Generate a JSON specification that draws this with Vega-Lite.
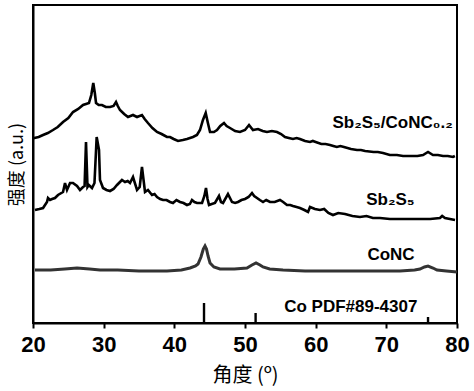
{
  "$schema": "https://vega.github.io/schema/vega-lite/v6.json",
  "autosize": {"type": "none"},
  "width": 424,
  "height": 318,
  "padding": {"left": 33, "top": 5, "right": 17, "bottom": 68},
  "background": "white",
  "config": {
    "view": {"stroke": "black", "strokeWidth": 2},
    "font": "Liberation Sans"
  },
  "datasets": {
    "xrd": [
      {"s": "A", "x": 20.04, "y": 184.7}, {"s": "A", "x": 20.8, "y": 186}, {"s": "A", "x": 21.42, "y": 188}, {"s": "A", "x": 22.1, "y": 190}, {"s": "A", "x": 22.83, "y": 193}, {"s": "A", "x": 23.5, "y": 196}, {"s": "A", "x": 24.25, "y": 201}, {"s": "A", "x": 25.0, "y": 205}, {"s": "A", "x": 25.66, "y": 211}, {"s": "A", "x": 26.4, "y": 214}, {"s": "A", "x": 27.08, "y": 218}, {"s": "A", "x": 27.5, "y": 219}, {"s": "A", "x": 27.92, "y": 220}, {"s": "A", "x": 28.25, "y": 228}, {"s": "A", "x": 28.53, "y": 240}, {"s": "A", "x": 28.75, "y": 230}, {"s": "A", "x": 28.92, "y": 220}, {"s": "A", "x": 29.3, "y": 218}, {"s": "A", "x": 29.76, "y": 218}, {"s": "A", "x": 30.3, "y": 216}, {"s": "A", "x": 30.9, "y": 216}, {"s": "A", "x": 31.4, "y": 217}, {"s": "A", "x": 31.75, "y": 221}, {"s": "A", "x": 32.0, "y": 217}, {"s": "A", "x": 32.31, "y": 213}, {"s": "A", "x": 32.9, "y": 209}, {"s": "A", "x": 33.44, "y": 206}, {"s": "A", "x": 34.15, "y": 208}, {"s": "A", "x": 34.72, "y": 206}, {"s": "A", "x": 35.42, "y": 208}, {"s": "A", "x": 35.8, "y": 204}, {"s": "A", "x": 36.27, "y": 200}, {"s": "A", "x": 36.9, "y": 195}, {"s": "A", "x": 37.55, "y": 191}, {"s": "A", "x": 38.2, "y": 189}, {"s": "A", "x": 38.96, "y": 186}, {"s": "A", "x": 39.39, "y": 186}, {"s": "A", "x": 39.9, "y": 184}, {"s": "A", "x": 40.52, "y": 182}, {"s": "A", "x": 41.2, "y": 183}, {"s": "A", "x": 41.79, "y": 184}, {"s": "A", "x": 42.64, "y": 186}, {"s": "A", "x": 43.2, "y": 188}, {"s": "A", "x": 43.63, "y": 193}, {"s": "A", "x": 44.05, "y": 203}, {"s": "A", "x": 44.44, "y": 210}, {"s": "A", "x": 44.75, "y": 200}, {"s": "A", "x": 45.05, "y": 191}, {"s": "A", "x": 45.6, "y": 191}, {"s": "A", "x": 46.04, "y": 193}, {"s": "A", "x": 46.5, "y": 197}, {"s": "A", "x": 47.03, "y": 200}, {"s": "A", "x": 47.4, "y": 197}, {"s": "A", "x": 47.88, "y": 195}, {"s": "A", "x": 48.6, "y": 192}, {"s": "A", "x": 49.29, "y": 191}, {"s": "A", "x": 50.0, "y": 193}, {"s": "A", "x": 50.57, "y": 198}, {"s": "A", "x": 51.13, "y": 193}, {"s": "A", "x": 51.84, "y": 194}, {"s": "A", "x": 52.5, "y": 192}, {"s": "A", "x": 53.11, "y": 191}, {"s": "A", "x": 53.8, "y": 192}, {"s": "A", "x": 54.53, "y": 191}, {"s": "A", "x": 55.1, "y": 189}, {"s": "A", "x": 55.66, "y": 186}, {"s": "A", "x": 56.2, "y": 185}, {"s": "A", "x": 56.79, "y": 184}, {"s": "A", "x": 57.3, "y": 185}, {"s": "A", "x": 57.78, "y": 184}, {"s": "A", "x": 58.5, "y": 182}, {"s": "A", "x": 59.2, "y": 181}, {"s": "A", "x": 59.6, "y": 182}, {"s": "A", "x": 60.0, "y": 181}, {"s": "A", "x": 60.8, "y": 179}, {"s": "A", "x": 61.4, "y": 179}, {"s": "A", "x": 62.03, "y": 178}, {"s": "A", "x": 62.5, "y": 177}, {"s": "A", "x": 63.0, "y": 176}, {"s": "A", "x": 63.5, "y": 177}, {"s": "A", "x": 64.0, "y": 176}, {"s": "A", "x": 65.0, "y": 174}, {"s": "A", "x": 65.85, "y": 173}, {"s": "A", "x": 66.4, "y": 173}, {"s": "A", "x": 67.0, "y": 172}, {"s": "A", "x": 68.2, "y": 171}, {"s": "A", "x": 68.8, "y": 171}, {"s": "A", "x": 69.53, "y": 170}, {"s": "A", "x": 70.5, "y": 168}, {"s": "A", "x": 71.5, "y": 168}, {"s": "A", "x": 72.36, "y": 167}, {"s": "A", "x": 73.5, "y": 167}, {"s": "A", "x": 74.4, "y": 167}, {"s": "A", "x": 75.19, "y": 168}, {"s": "A", "x": 75.9, "y": 171}, {"s": "A", "x": 76.6, "y": 168}, {"s": "A", "x": 77.3, "y": 168}, {"s": "A", "x": 78.02, "y": 167}, {"s": "A", "x": 78.7, "y": 167}, {"s": "A", "x": 79.43, "y": 166}, {"s": "A", "x": 79.7, "y": 167},

      {"s": "B", "x": 20.28, "y": 113}, {"s": "B", "x": 20.9, "y": 114}, {"s": "B", "x": 21.42, "y": 115}, {"s": "B", "x": 21.98, "y": 121}, {"s": "B", "x": 22.12, "y": 125}, {"s": "B", "x": 22.41, "y": 123}, {"s": "B", "x": 22.7, "y": 124}, {"s": "B", "x": 23.11, "y": 125}, {"s": "B", "x": 23.54, "y": 128}, {"s": "B", "x": 24.25, "y": 131}, {"s": "B", "x": 24.53, "y": 140}, {"s": "B", "x": 24.81, "y": 133}, {"s": "B", "x": 25.24, "y": 140}, {"s": "B", "x": 25.66, "y": 140}, {"s": "B", "x": 26.23, "y": 137}, {"s": "B", "x": 26.65, "y": 133}, {"s": "B", "x": 27.08, "y": 136}, {"s": "B", "x": 27.3, "y": 137}, {"s": "B", "x": 27.5, "y": 181}, {"s": "B", "x": 27.71, "y": 136}, {"s": "B", "x": 27.9, "y": 138}, {"s": "B", "x": 28.35, "y": 135}, {"s": "B", "x": 28.7, "y": 140}, {"s": "B", "x": 29.01, "y": 186}, {"s": "B", "x": 29.34, "y": 173}, {"s": "B", "x": 29.48, "y": 143}, {"s": "B", "x": 29.91, "y": 135}, {"s": "B", "x": 30.4, "y": 133}, {"s": "B", "x": 30.9, "y": 132}, {"s": "B", "x": 31.4, "y": 134}, {"s": "B", "x": 31.89, "y": 138}, {"s": "B", "x": 32.59, "y": 143}, {"s": "B", "x": 33.02, "y": 141}, {"s": "B", "x": 33.4, "y": 142}, {"s": "B", "x": 33.73, "y": 140}, {"s": "B", "x": 34.15, "y": 146}, {"s": "B", "x": 34.72, "y": 133}, {"s": "B", "x": 35.1, "y": 136}, {"s": "B", "x": 35.42, "y": 156}, {"s": "B", "x": 35.85, "y": 131}, {"s": "B", "x": 36.27, "y": 133}, {"s": "B", "x": 36.84, "y": 128}, {"s": "B", "x": 37.2, "y": 129}, {"s": "B", "x": 37.55, "y": 126}, {"s": "B", "x": 38.0, "y": 124}, {"s": "B", "x": 38.4, "y": 123}, {"s": "B", "x": 38.9, "y": 123}, {"s": "B", "x": 39.39, "y": 121}, {"s": "B", "x": 39.81, "y": 120}, {"s": "B", "x": 40.3, "y": 123}, {"s": "B", "x": 40.8, "y": 121}, {"s": "B", "x": 41.3, "y": 120}, {"s": "B", "x": 41.79, "y": 118}, {"s": "B", "x": 42.2, "y": 119}, {"s": "B", "x": 42.5, "y": 123}, {"s": "B", "x": 42.85, "y": 121}, {"s": "B", "x": 43.21, "y": 120}, {"s": "B", "x": 43.92, "y": 120}, {"s": "B", "x": 44.25, "y": 127}, {"s": "B", "x": 44.48, "y": 135}, {"s": "B", "x": 44.7, "y": 124}, {"s": "B", "x": 44.91, "y": 118}, {"s": "B", "x": 45.3, "y": 119}, {"s": "B", "x": 45.75, "y": 120}, {"s": "B", "x": 46.32, "y": 127}, {"s": "B", "x": 46.6, "y": 121}, {"s": "B", "x": 46.89, "y": 120}, {"s": "B", "x": 47.59, "y": 129}, {"s": "B", "x": 48.16, "y": 121}, {"s": "B", "x": 48.6, "y": 120}, {"s": "B", "x": 49.01, "y": 121}, {"s": "B", "x": 49.5, "y": 123}, {"s": "B", "x": 50.0, "y": 124}, {"s": "B", "x": 50.5, "y": 126}, {"s": "B", "x": 50.99, "y": 130}, {"s": "B", "x": 51.3, "y": 127}, {"s": "B", "x": 51.7, "y": 125}, {"s": "B", "x": 52.1, "y": 123}, {"s": "B", "x": 52.55, "y": 121}, {"s": "B", "x": 53.0, "y": 123}, {"s": "B", "x": 53.54, "y": 121}, {"s": "B", "x": 54.2, "y": 121}, {"s": "B", "x": 54.95, "y": 123}, {"s": "B", "x": 55.4, "y": 121}, {"s": "B", "x": 55.94, "y": 118}, {"s": "B", "x": 56.4, "y": 118}, {"s": "B", "x": 56.79, "y": 117}, {"s": "B", "x": 57.3, "y": 116}, {"s": "B", "x": 57.78, "y": 115}, {"s": "B", "x": 58.4, "y": 113}, {"s": "B", "x": 58.92, "y": 111}, {"s": "B", "x": 59.2, "y": 116}, {"s": "B", "x": 59.9, "y": 114}, {"s": "B", "x": 60.61, "y": 113}, {"s": "B", "x": 61.2, "y": 114}, {"s": "B", "x": 61.8, "y": 110}, {"s": "B", "x": 62.45, "y": 108}, {"s": "B", "x": 63.2, "y": 110}, {"s": "B", "x": 64.15, "y": 109}, {"s": "B", "x": 65.2, "y": 107}, {"s": "B", "x": 66.27, "y": 106}, {"s": "B", "x": 67.2, "y": 107}, {"s": "B", "x": 68.1, "y": 105}, {"s": "B", "x": 69.1, "y": 105}, {"s": "B", "x": 70.5, "y": 104}, {"s": "B", "x": 71.93, "y": 104}, {"s": "B", "x": 73.3, "y": 104}, {"s": "B", "x": 74.76, "y": 104}, {"s": "B", "x": 76.2, "y": 104}, {"s": "B", "x": 77.59, "y": 105}, {"s": "B", "x": 77.9, "y": 107}, {"s": "B", "x": 78.3, "y": 105}, {"s": "B", "x": 79.0, "y": 104}, {"s": "B", "x": 79.72, "y": 103},

      {"s": "C", "x": 20.28, "y": 53}, {"s": "C", "x": 22.5, "y": 53}, {"s": "C", "x": 24.5, "y": 54}, {"s": "C", "x": 26.23, "y": 55}, {"s": "C", "x": 28.0, "y": 54}, {"s": "C", "x": 29.48, "y": 53}, {"s": "C", "x": 32.0, "y": 53}, {"s": "C", "x": 35.0, "y": 52}, {"s": "C", "x": 38.96, "y": 52}, {"s": "C", "x": 41.0, "y": 53}, {"s": "C", "x": 42.22, "y": 55}, {"s": "C", "x": 43.0, "y": 57}, {"s": "C", "x": 43.35, "y": 59}, {"s": "C", "x": 43.77, "y": 66}, {"s": "C", "x": 44.1, "y": 74}, {"s": "C", "x": 44.34, "y": 77}, {"s": "C", "x": 44.55, "y": 74}, {"s": "C", "x": 44.77, "y": 67}, {"s": "C", "x": 45.05, "y": 60}, {"s": "C", "x": 45.6, "y": 56}, {"s": "C", "x": 46.46, "y": 54}, {"s": "C", "x": 48.5, "y": 54}, {"s": "C", "x": 50.28, "y": 55}, {"s": "C", "x": 50.99, "y": 58}, {"s": "C", "x": 51.56, "y": 60}, {"s": "C", "x": 52.12, "y": 58}, {"s": "C", "x": 52.55, "y": 56}, {"s": "C", "x": 53.5, "y": 54}, {"s": "C", "x": 55.38, "y": 53}, {"s": "C", "x": 58.5, "y": 52}, {"s": "C", "x": 62.45, "y": 52}, {"s": "C", "x": 67.0, "y": 52}, {"s": "C", "x": 71.93, "y": 52}, {"s": "C", "x": 74.0, "y": 53}, {"s": "C", "x": 74.76, "y": 54}, {"s": "C", "x": 75.4, "y": 56}, {"s": "C", "x": 75.9, "y": 57}, {"s": "C", "x": 76.6, "y": 55}, {"s": "C", "x": 77.17, "y": 53}, {"s": "C", "x": 78.5, "y": 52}, {"s": "C", "x": 80.0, "y": 51}
    ],
    "ref": [
      {"x": 44.2, "h": 20, "b": 0},
      {"x": 51.5, "h": 10, "b": 0},
      {"x": 75.9, "h": 6, "b": 0}
    ],
    "labels": [
      {"t": "Sb₂S₅/CoNC₀.₂", "x": 79.4, "y": 195},
      {"t": "Sb₂S₅", "x": 74.0, "y": 118},
      {"t": "CoNC", "x": 74.0, "y": 63},
      {"t": "Co PDF#89-4307", "x": 74.4, "y": 11}
    ]
  },
  "layer": [
    {
      "data": {"name": "xrd"},
      "transform": [{"filter": "datum.s === 'C'"}],
      "mark": {"type": "line", "color": "#333333", "strokeWidth": 3, "interpolate": "linear"},
      "encoding": {
        "x": {
          "field": "x", "type": "quantitative",
          "scale": {"domain": [20, 80], "nice": false, "zero": false},
          "axis": {
            "values": [20, 30, 40, 50, 60, 70, 80],
            "title": "角度 (º)",
            "titleFont": "Noto Sans CJK SC",
            "titleFontSize": 20,
            "titleFontWeight": "normal",
            "titleColor": "black",
            "titlePadding": 10,
            "labelFont": "Liberation Sans",
            "labelFontSize": 22,
            "labelFontWeight": "bold",
            "labelColor": "black",
            "labelPadding": 6,
            "tickColor": "black",
            "tickWidth": 2,
            "tickSize": 5,
            "domainColor": "black",
            "domainWidth": 2,
            "grid": false,
            "labelFlush": false
          }
        },
        "y": {
          "field": "y", "type": "quantitative",
          "scale": {"domain": [0, 318], "nice": false},
          "axis": {
            "title": "强度 (a.u.)",
            "titleFont": "Noto Sans CJK SC",
            "titleFontSize": 18,
            "titleFontWeight": "normal",
            "titleColor": "black",
            "titlePadding": 7,
            "labels": false,
            "ticks": false,
            "grid": false,
            "domainColor": "black",
            "domainWidth": 2
          }
        }
      }
    },
    {
      "data": {"name": "xrd"},
      "transform": [{"filter": "datum.s !== 'C'"}],
      "mark": {"type": "line", "color": "black", "strokeWidth": 2.6, "interpolate": "linear"},
      "encoding": {
        "x": {"field": "x", "type": "quantitative"},
        "y": {"field": "y", "type": "quantitative"},
        "detail": {"field": "s", "type": "nominal"}
      }
    },
    {
      "data": {"name": "ref"},
      "mark": {"type": "rule", "color": "black", "strokeWidth": 2.4},
      "encoding": {
        "x": {"field": "x", "type": "quantitative"},
        "y": {"field": "h", "type": "quantitative"},
        "y2": {"field": "b"}
      }
    },
    {
      "data": {"name": "labels"},
      "mark": {"type": "text", "align": "right", "baseline": "alphabetic", "fontSize": 17, "fontWeight": "bold", "font": "Liberation Sans", "color": "black"},
      "encoding": {
        "x": {"field": "x", "type": "quantitative"},
        "y": {"field": "y", "type": "quantitative"},
        "text": {"field": "t", "type": "nominal"}
      }
    }
  ]
}
